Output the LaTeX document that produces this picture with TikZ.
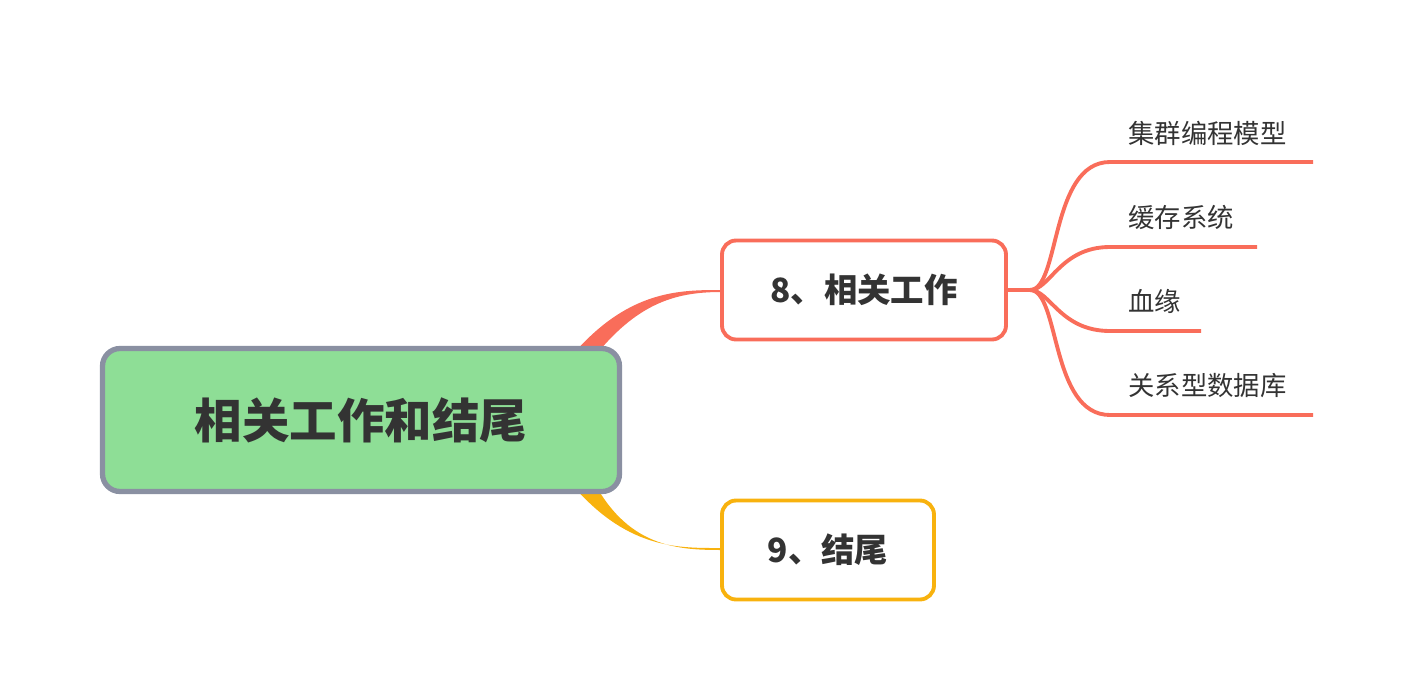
\documentclass[tikz,border=0pt]{standalone}
\usepackage{fontspec}
\setmainfont{Noto Sans CJK SC}
\usepackage{tikz}
\usetikzlibrary{positioning, arrows.meta}
\definecolor{rootfill}{HTML}{8EDE96}
\definecolor{rootline}{HTML}{8A90A2}
\definecolor{redline}{HTML}{F96D5A}
\definecolor{goldline}{HTML}{F8B20E}
\definecolor{txt}{HTML}{333333}
\tikzset{
  topic/.style={draw, line width=2.2pt, rounded corners=8pt, fill=white, text=txt, font=\fontsize{19}{19}\selectfont\bfseries, inner sep=0pt},
  leaf/.style={anchor=south west, text=txt, font=\fontsize{15}{15}\selectfont, inner sep=0pt},
  branch/.style={line width=2.2pt, redline}
}
\begin{document}
\begin{tikzpicture}[x=0.02cm, y=-0.02cm]
  \useasboundingbox (0,0) rectangle (1414,700);
  % main branches
  \fill[redline] (575,352) .. controls (630,290) and (680,290) .. (722,290)
        -- (722,292) .. controls (680,292) and (640,300) .. (595,356) -- cycle;
  \fill[goldline] (575,488) .. controls (630,550) and (680,548) .. (722,548)
        -- (722,550) .. controls (680,550) and (630,548) .. (595,484) -- cycle;

  \node[draw=rootline, line width=3pt, rounded corners=10pt, fill=rootfill, minimum width=517*0.02cm, minimum height=143*0.02cm, text=txt, font=\fontsize{27}{27}\selectfont\bfseries] (root) at (361,420) {相关工作和结尾};
  \node[topic, draw=redline, minimum width=284*0.02cm, minimum height=99*0.02cm] (work) at (864,290) {8、相关工作};
  \node[topic, draw=goldline, minimum width=212*0.02cm, minimum height=99*0.02cm] (end) at (828,550) {9、结尾};

  % sub branches
  \coordinate (fork) at (1030,290);
  \draw[branch] (work.east) -- (fork);
  \node[leaf] (l1) at (1128,146) {集群编程模型};
  \node[leaf] (l2) at (1128,230) {缓存系统};
  \node[leaf] (l3) at (1128,314) {血缘};
  \node[leaf] (l4) at (1128,398) {关系型数据库};
  \coordinate (e1) at (1313,162);
  \coordinate (e2) at (1257,247);
  \coordinate (e3) at (1201,331);
  \coordinate (e4) at (1313,415);
  \draw[branch] (fork) .. controls (1060,290) and (1050,162) .. (1110,162) -- (e1);
  \draw[branch] (fork) .. controls (1050,290) and (1060,247) .. (1110,247) -- (e2);
  \draw[branch] (fork) .. controls (1050,290) and (1060,331) .. (1110,331) -- (e3);
  \draw[branch] (fork) .. controls (1060,290) and (1050,415) .. (1110,415) -- (e4);
\end{tikzpicture}
\end{document}
